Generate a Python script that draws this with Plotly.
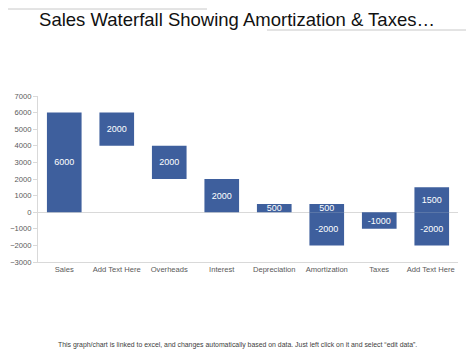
import plotly.graph_objects as go

categories = ["Sales", "Add Text Here", "Overheads", "Interest", "Depreciation",
              "Amortization", "Taxes", "Add Text Here "]
base = [0, 4000, 2000, 0, 0, 0, 0, 0]
positive = [6000, 2000, 2000, 2000, 500, 500, 0, 1500]
negative = [0, 0, 0, 0, 0, -2000, -1000, -2000]
tick_vals = [-3000, -2000, -1000, 0, 1000, 2000, 3000, 4000, 5000, 6000, 7000]

BAR = "#3E5F9D"
# page body has an 8px margin, so figure coords = screen coords - 8
OFF = 8
PL, PR, PT, PB = 38 - OFF, 458 - OFF, 96 - OFF, 262 - OFF
W, H = 474 - OFF, 355 - OFF
PW, PH = PR - PL, PB - PT


def px(x):
    return (x - OFF - PL) / PW


def py(y):
    return (PB - (y - OFF)) / PH


fig = go.Figure()
fig.add_trace(go.Bar(x=categories, y=base, marker_color="rgba(0,0,0,0)",
                     marker_line_width=0, hoverinfo="skip", showlegend=False))
fig.add_trace(go.Bar(x=categories, y=positive, marker_color=BAR,
                     marker_line_width=0,
                     text=[str(v) if v else "" for v in positive],
                     textposition="inside", insidetextanchor="middle",
                     textfont=dict(color="white", size=9, family="Liberation Sans"),
                     showlegend=False))
fig.add_trace(go.Bar(x=categories, y=negative, marker_color=BAR,
                     marker_line_width=0,
                     text=[str(v) if v else "" for v in negative],
                     textposition="inside", insidetextanchor="middle",
                     textfont=dict(color="white", size=9, family="Liberation Sans"),
                     showlegend=False))

fig.update_layout(
    width=W, height=H,
    barmode="relative", bargap=0.34,
    plot_bgcolor="white", paper_bgcolor="white",
    margin=dict(l=PL, r=W - PR, t=PT, b=H - PB, autoexpand=False),
    font=dict(family="Liberation Sans", color="#595959", size=8),
    uniformtext=dict(minsize=8, mode="show"),
    xaxis=dict(showline=True, linecolor="#d9d9d9", linewidth=1, ticks="",
               automargin=False,
               tickfont=dict(size=7.6, color="#595959"), showgrid=False),
    yaxis=dict(range=[-3000, 7000], tickvals=tick_vals, showgrid=False,
               automargin=False,
               zeroline=True, zerolinecolor="#d9d9d9", zerolinewidth=1,
               showline=True, linecolor="#d9d9d9", linewidth=1,
               ticks="outside", ticklen=4, tickcolor="#d9d9d9",
               tickfont=dict(size=7.6, color="#595959")),
    title=dict(text="Sales Waterfall Showing Amortization & Taxes…",
               x=(237 - OFF) / W, xanchor="center", y=1 - (20 - OFF) / H, yanchor="middle",
               font=dict(size=18.5, color="#111111", family="Liberation Sans")),
    shapes=[
        dict(type="line", xref="paper", yref="paper", x0=px(0), x1=px(207),
             y0=py(9), y1=py(9), line=dict(color="#c8c8c8", width=1)),
        dict(type="line", xref="paper", yref="paper", x0=px(267), x1=px(474),
             y0=py(30), y1=py(30), line=dict(color="#c8c8c8", width=1)),
    ],
    annotations=[
        dict(text="This graph/chart is linked to excel, and changes automatically based on data. Just left click on it and select \u201cedit data\u201d.",
             xref="paper", yref="paper", x=px(237), y=py(345),
             xanchor="center", yanchor="middle", showarrow=False,
             font=dict(size=6.9, color="#404040", family="Liberation Sans")),
    ],
)

fig.write_html("out.html")
